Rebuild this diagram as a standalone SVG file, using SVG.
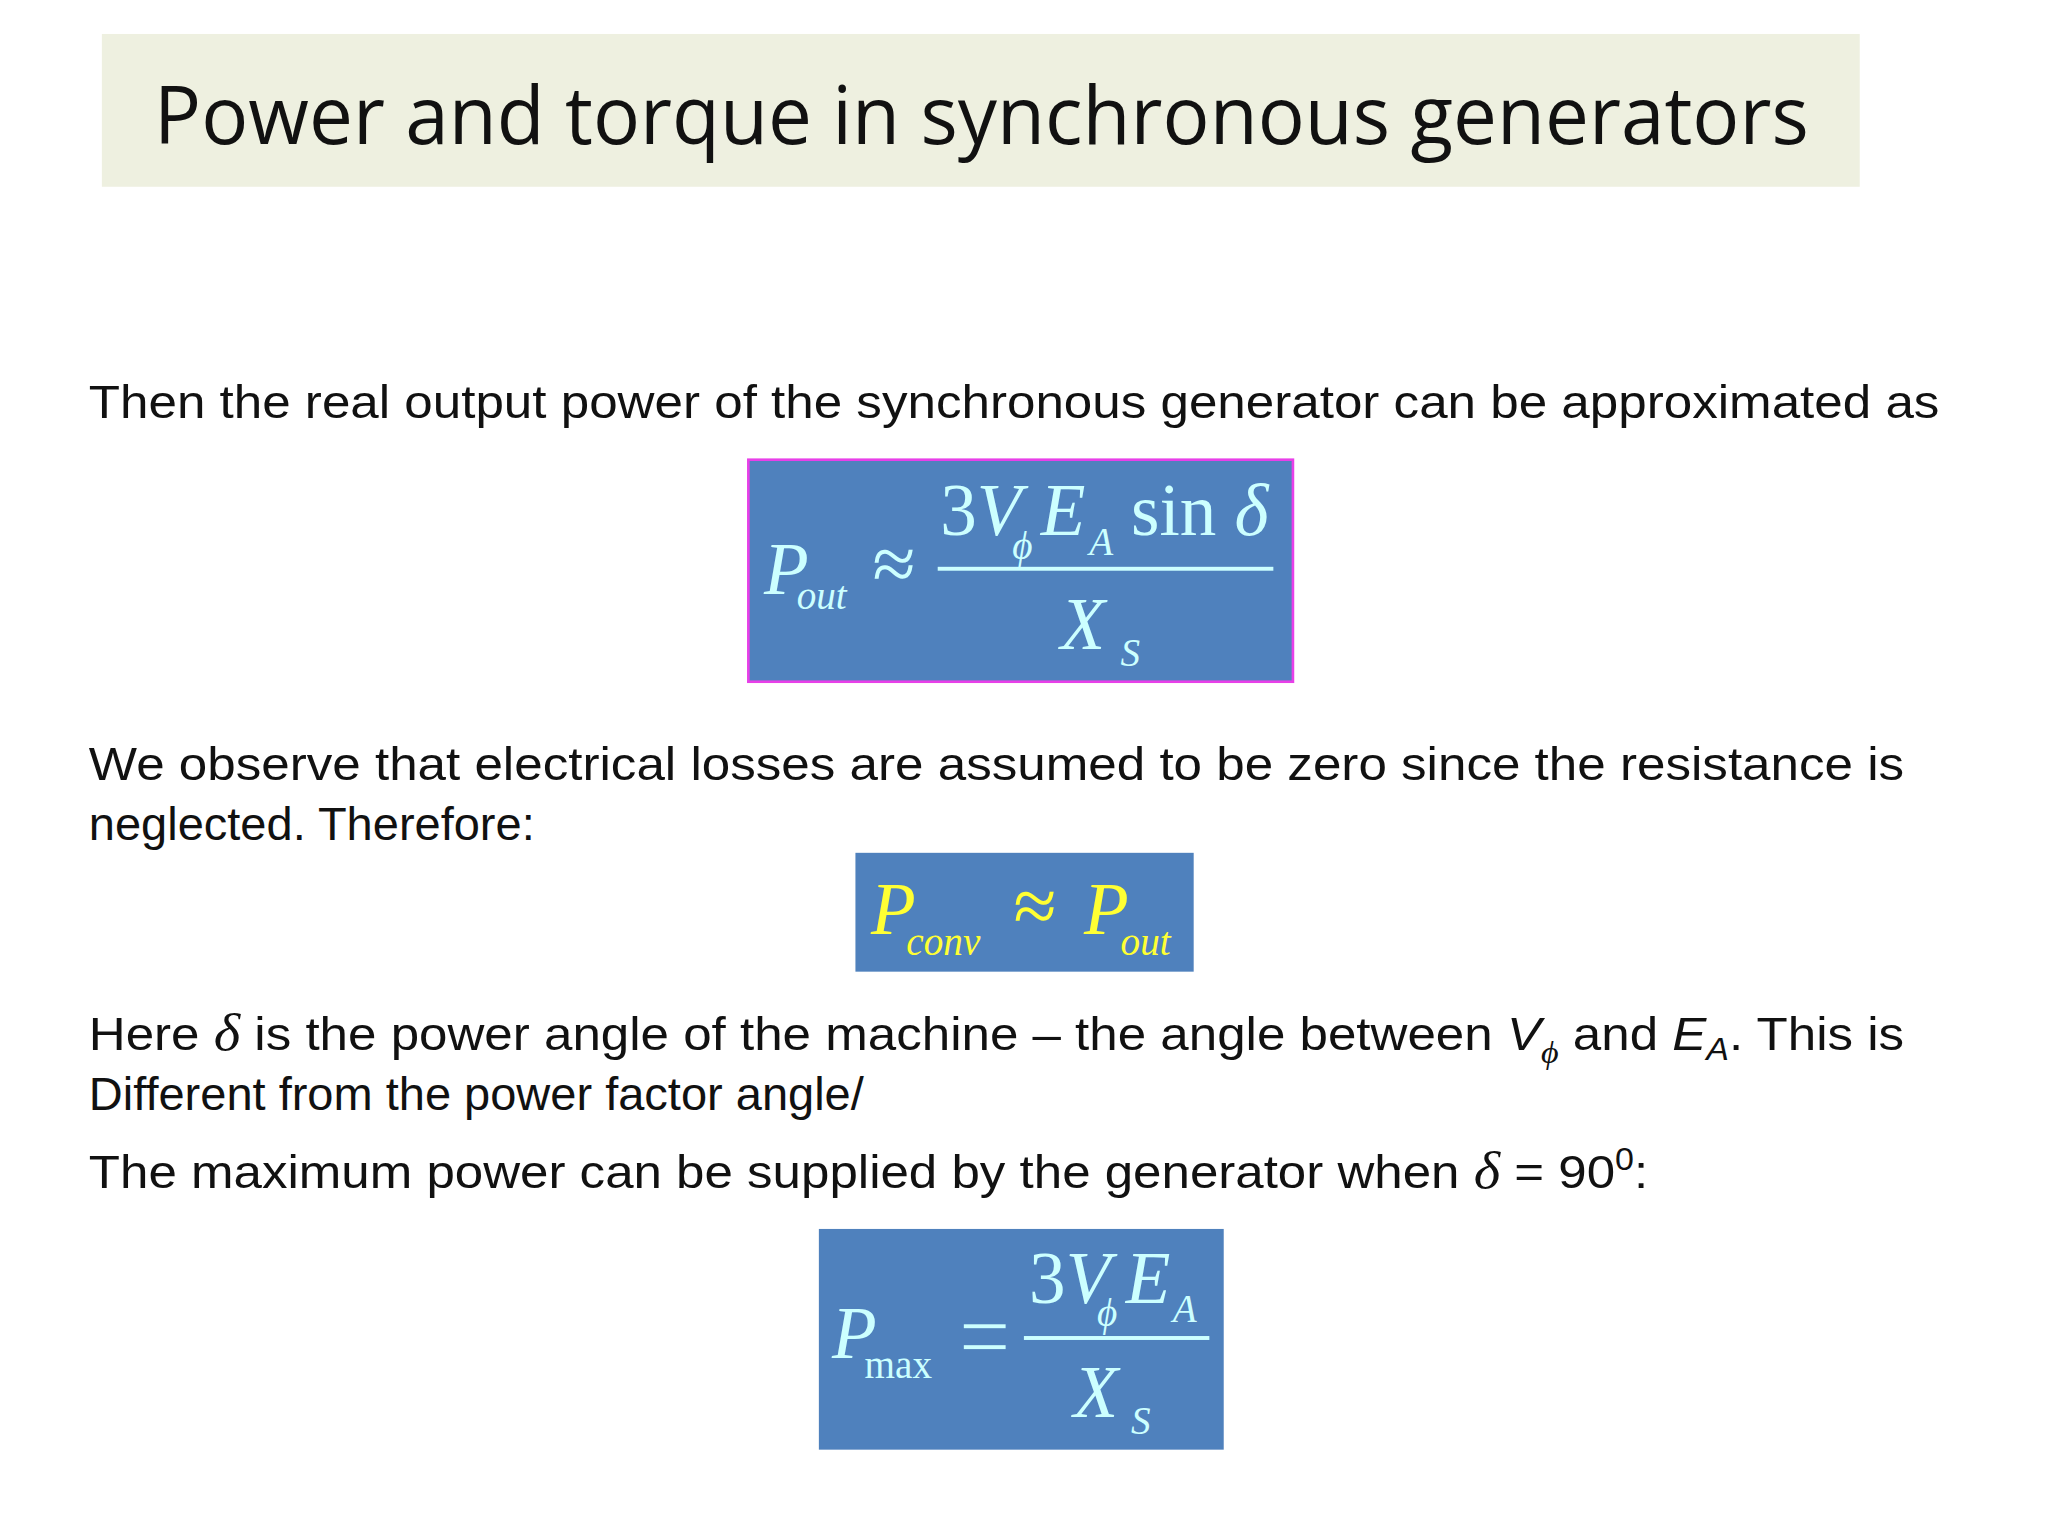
<svg xmlns="http://www.w3.org/2000/svg" width="2048" height="1536" viewBox="0 0 2048 1536">
<style>
.b{font-family:"Liberation Sans",Arial,sans-serif;font-size:36px;fill:#111}
.m{font-family:"Liberation Serif","Times New Roman",serif;font-style:italic;fill:#CCFFFF}
.y{fill:#FFFF33}
.box{fill:#4F81BD}
.up{font-style:normal}
</style>
<rect width="2048" height="1536" fill="#fff"/>
<g transform="scale(1.306)">
<g id="title">
<rect x="78" y="26" width="1346" height="117" fill="#EEF0E0"/>
<text x="118" y="110" font-family="'Open Sans','Liberation Sans',sans-serif" font-size="62" fill="#111" textLength="1267" lengthAdjust="spacingAndGlyphs">Power and torque in synchronous generators</text>
</g>
<g id="p1"><text class="b" x="68" y="320" textLength="1417" lengthAdjust="spacingAndGlyphs">Then the real output power of the synchronous generator can be approximated as</text></g>
<g id="eq1">
<rect class="box" x="573" y="352" width="417" height="170" stroke="#E83FE8" stroke-width="2"/>
<text class="m" x="585" y="455" font-size="56">P</text>
<text class="m" x="610" y="466" font-size="30">out</text>
<text class="m up" x="668" y="452" font-size="60">≈</text>
<rect x="718" y="434" width="257" height="3" fill="#CCFFFF"/>
<text class="m" x="720" y="410" font-size="56"><tspan class="up">3</tspan>V</text>
<text class="m" x="775" y="428" font-size="30">ϕ</text>
<text class="m" x="797" y="410" font-size="56">E</text>
<text class="m" x="834" y="425" font-size="30">A</text>
<text class="m" x="866" y="410" font-size="56"><tspan class="up">sin</tspan> δ</text>
<text class="m" x="812" y="497" font-size="56">X</text>
<text class="m" x="858" y="510" font-size="30">S</text>
</g>
<g id="p2">
<text class="b" x="68" y="597" textLength="1390" lengthAdjust="spacingAndGlyphs">We observe that electrical losses are assumed to be zero since the resistance is</text>
<text class="b" x="68" y="643">neglected. Therefore:</text>
</g>
<g id="eq2">
<rect class="box" x="655" y="653" width="259" height="91"/>
<text class="m y" x="667" y="715" font-size="56">P</text>
<text class="m y" x="694" y="731" font-size="30">conv</text>
<text class="m y up" x="776" y="714" font-size="60">≈</text>
<text class="m y" x="830" y="715" font-size="56">P</text>
<text class="m y" x="858" y="731" font-size="30">out</text>
</g>
<g id="p3">
<text class="b" x="68" y="804" textLength="1390" lengthAdjust="spacingAndGlyphs">Here <tspan font-family="'Liberation Serif',serif" font-style="italic" font-size="40">δ</tspan> is the power angle of the machine – the angle between <tspan font-style="italic">V</tspan><tspan font-family="'Liberation Serif',serif" font-style="italic" font-size="24" dy="10">ϕ</tspan><tspan dy="-10"> and </tspan><tspan font-style="italic">E</tspan><tspan font-style="italic" font-size="24" dy="8">A</tspan><tspan dy="-8">. This is</tspan></text>
<text class="b" x="68" y="850">Different from the power factor angle/</text>
<text class="b" x="68" y="910" textLength="1194" lengthAdjust="spacingAndGlyphs">The maximum power can be supplied by the generator when <tspan font-family="'Liberation Serif',serif" font-style="italic" font-size="40">δ</tspan> = 90<tspan font-size="24" dy="-14">0</tspan><tspan dy="14">:</tspan></text>
</g>
<g id="eq3">
<rect class="box" x="627" y="941" width="310" height="169"/>
<text class="m" x="637" y="1040" font-size="56">P</text>
<text class="m up" x="662" y="1055" font-size="30">max</text>
<rect x="738" y="1014" width="32" height="3" fill="#CCFFFF"/>
<rect x="738" y="1030" width="32" height="3" fill="#CCFFFF"/>
<rect x="784" y="1023" width="142" height="3" fill="#CCFFFF"/>
<text class="m" x="788" y="998" font-size="56"><tspan class="up">3</tspan>V</text>
<text class="m" x="840" y="1015" font-size="30">ϕ</text>
<text class="m" x="862" y="998" font-size="56">E</text>
<text class="m" x="898" y="1012" font-size="30">A</text>
<text class="m" x="822" y="1085" font-size="56">X</text>
<text class="m" x="866" y="1098" font-size="30">S</text>
</g>
</g>
</svg>
